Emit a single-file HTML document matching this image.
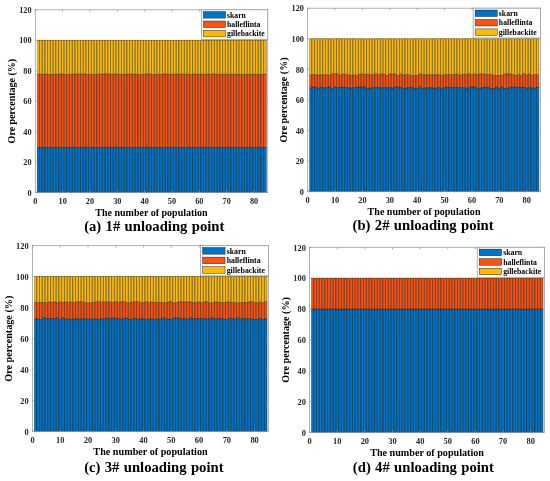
<!DOCTYPE html><html><head><meta charset="utf-8"><style>html,body{margin:0;padding:0;background:#fff;width:550px;height:481px;overflow:hidden}svg{display:block}.b{fill:rgb(2,116,200);stroke:rgb(0,50,78);stroke-width:0.62}.o{fill:rgb(245,85,20);stroke:rgb(105,40,15);stroke-width:0.62}.y{fill:rgb(248,186,14);stroke:rgb(110,85,15);stroke-width:0.62}</style></head><body>
<svg width="550" height="481" viewBox="0 0 550 481">
<rect width="550" height="481" fill="#fff"/>
<g><rect class="b" x="36.83" y="147.48" width="2.41" height="44.92"/><rect class="o" x="36.83" y="74.15" width="2.41" height="73.33"/><rect class="y" x="36.83" y="40.23" width="2.41" height="33.91"/><rect class="b" x="39.56" y="147.42" width="2.41" height="44.98"/><rect class="o" x="39.56" y="74.12" width="2.41" height="73.3"/><rect class="y" x="39.56" y="40.23" width="2.41" height="33.89"/><rect class="b" x="42.3" y="147.3" width="2.41" height="45.1"/><rect class="o" x="42.3" y="74.36" width="2.41" height="72.94"/><rect class="y" x="42.3" y="40.23" width="2.41" height="34.13"/><rect class="b" x="45.03" y="147.58" width="2.41" height="44.82"/><rect class="o" x="45.03" y="74.01" width="2.41" height="73.57"/><rect class="y" x="45.03" y="40.23" width="2.41" height="33.78"/><rect class="b" x="47.76" y="147.47" width="2.41" height="44.93"/><rect class="o" x="47.76" y="74.29" width="2.41" height="73.18"/><rect class="y" x="47.76" y="40.23" width="2.41" height="34.05"/><rect class="b" x="50.5" y="147.13" width="2.41" height="45.27"/><rect class="o" x="50.5" y="74.18" width="2.41" height="72.95"/><rect class="y" x="50.5" y="40.23" width="2.41" height="33.95"/><rect class="b" x="53.23" y="147.21" width="2.41" height="45.19"/><rect class="o" x="53.23" y="74.18" width="2.41" height="73.03"/><rect class="y" x="53.23" y="40.23" width="2.41" height="33.94"/><rect class="b" x="55.97" y="147.3" width="2.41" height="45.1"/><rect class="o" x="55.97" y="74.33" width="2.41" height="72.97"/><rect class="y" x="55.97" y="40.23" width="2.41" height="34.09"/><rect class="b" x="58.7" y="147.3" width="2.41" height="45.1"/><rect class="o" x="58.7" y="74" width="2.41" height="73.3"/><rect class="y" x="58.7" y="40.23" width="2.41" height="33.77"/><rect class="b" x="61.43" y="147.35" width="2.41" height="45.05"/><rect class="o" x="61.43" y="74.06" width="2.41" height="73.29"/><rect class="y" x="61.43" y="40.23" width="2.41" height="33.82"/><rect class="b" x="64.17" y="147.28" width="2.41" height="45.12"/><rect class="o" x="64.17" y="74.37" width="2.41" height="72.91"/><rect class="y" x="64.17" y="40.23" width="2.41" height="34.13"/><rect class="b" x="66.9" y="147.24" width="2.41" height="45.16"/><rect class="o" x="66.9" y="74.12" width="2.41" height="73.12"/><rect class="y" x="66.9" y="40.23" width="2.41" height="33.89"/><rect class="b" x="69.64" y="147.45" width="2.41" height="44.95"/><rect class="o" x="69.64" y="74.38" width="2.41" height="73.07"/><rect class="y" x="69.64" y="40.23" width="2.41" height="34.15"/><rect class="b" x="72.37" y="147.19" width="2.41" height="45.21"/><rect class="o" x="72.37" y="74.18" width="2.41" height="73.01"/><rect class="y" x="72.37" y="40.23" width="2.41" height="33.95"/><rect class="b" x="75.1" y="147.26" width="2.41" height="45.14"/><rect class="o" x="75.1" y="73.99" width="2.41" height="73.27"/><rect class="y" x="75.1" y="40.23" width="2.41" height="33.76"/><rect class="b" x="77.84" y="147.26" width="2.41" height="45.14"/><rect class="o" x="77.84" y="73.97" width="2.41" height="73.29"/><rect class="y" x="77.84" y="40.23" width="2.41" height="33.74"/><rect class="b" x="80.57" y="147.41" width="2.41" height="44.99"/><rect class="o" x="80.57" y="74.03" width="2.41" height="73.38"/><rect class="y" x="80.57" y="40.23" width="2.41" height="33.8"/><rect class="b" x="83.31" y="147.38" width="2.41" height="45.02"/><rect class="o" x="83.31" y="73.97" width="2.41" height="73.42"/><rect class="y" x="83.31" y="40.23" width="2.41" height="33.73"/><rect class="b" x="86.04" y="147.19" width="2.41" height="45.21"/><rect class="o" x="86.04" y="74.35" width="2.41" height="72.84"/><rect class="y" x="86.04" y="40.23" width="2.41" height="34.12"/><rect class="b" x="88.78" y="147.52" width="2.41" height="44.88"/><rect class="o" x="88.78" y="74.3" width="2.41" height="73.23"/><rect class="y" x="88.78" y="40.23" width="2.41" height="34.06"/><rect class="b" x="91.51" y="147.15" width="2.41" height="45.25"/><rect class="o" x="91.51" y="74.2" width="2.41" height="72.95"/><rect class="y" x="91.51" y="40.23" width="2.41" height="33.96"/><rect class="b" x="94.24" y="147.3" width="2.41" height="45.1"/><rect class="o" x="94.24" y="74.26" width="2.41" height="73.04"/><rect class="y" x="94.24" y="40.23" width="2.41" height="34.02"/><rect class="b" x="96.98" y="147.36" width="2.41" height="45.04"/><rect class="o" x="96.98" y="74.22" width="2.41" height="73.14"/><rect class="y" x="96.98" y="40.23" width="2.41" height="33.99"/><rect class="b" x="99.71" y="147.43" width="2.41" height="44.97"/><rect class="o" x="99.71" y="74.13" width="2.41" height="73.3"/><rect class="y" x="99.71" y="40.23" width="2.41" height="33.89"/><rect class="b" x="102.45" y="147.32" width="2.41" height="45.08"/><rect class="o" x="102.45" y="73.98" width="2.41" height="73.34"/><rect class="y" x="102.45" y="40.23" width="2.41" height="33.75"/><rect class="b" x="105.18" y="147.28" width="2.41" height="45.12"/><rect class="o" x="105.18" y="73.97" width="2.41" height="73.3"/><rect class="y" x="105.18" y="40.23" width="2.41" height="33.74"/><rect class="b" x="107.91" y="147.2" width="2.41" height="45.2"/><rect class="o" x="107.91" y="73.94" width="2.41" height="73.25"/><rect class="y" x="107.91" y="40.23" width="2.41" height="33.71"/><rect class="b" x="110.65" y="147.28" width="2.41" height="45.12"/><rect class="o" x="110.65" y="74.32" width="2.41" height="72.96"/><rect class="y" x="110.65" y="40.23" width="2.41" height="34.09"/><rect class="b" x="113.38" y="147.19" width="2.41" height="45.21"/><rect class="o" x="113.38" y="73.95" width="2.41" height="73.24"/><rect class="y" x="113.38" y="40.23" width="2.41" height="33.72"/><rect class="b" x="116.12" y="147.17" width="2.41" height="45.23"/><rect class="o" x="116.12" y="74.13" width="2.41" height="73.04"/><rect class="y" x="116.12" y="40.23" width="2.41" height="33.9"/><rect class="b" x="118.85" y="147.26" width="2.41" height="45.14"/><rect class="o" x="118.85" y="74.3" width="2.41" height="72.96"/><rect class="y" x="118.85" y="40.23" width="2.41" height="34.07"/><rect class="b" x="121.58" y="147.21" width="2.41" height="45.19"/><rect class="o" x="121.58" y="74.13" width="2.41" height="73.07"/><rect class="y" x="121.58" y="40.23" width="2.41" height="33.9"/><rect class="b" x="124.32" y="147.46" width="2.41" height="44.94"/><rect class="o" x="124.32" y="74.37" width="2.41" height="73.09"/><rect class="y" x="124.32" y="40.23" width="2.41" height="34.13"/><rect class="b" x="127.05" y="147.2" width="2.41" height="45.2"/><rect class="o" x="127.05" y="73.94" width="2.41" height="73.25"/><rect class="y" x="127.05" y="40.23" width="2.41" height="33.71"/><rect class="b" x="129.79" y="147.55" width="2.41" height="44.85"/><rect class="o" x="129.79" y="74.03" width="2.41" height="73.52"/><rect class="y" x="129.79" y="40.23" width="2.41" height="33.8"/><rect class="b" x="132.52" y="147.4" width="2.41" height="45"/><rect class="o" x="132.52" y="74.33" width="2.41" height="73.07"/><rect class="y" x="132.52" y="40.23" width="2.41" height="34.09"/><rect class="b" x="135.26" y="147.45" width="2.41" height="44.95"/><rect class="o" x="135.26" y="74.04" width="2.41" height="73.41"/><rect class="y" x="135.26" y="40.23" width="2.41" height="33.81"/><rect class="b" x="137.99" y="147.19" width="2.41" height="45.21"/><rect class="o" x="137.99" y="74.37" width="2.41" height="72.81"/><rect class="y" x="137.99" y="40.23" width="2.41" height="34.14"/><rect class="b" x="140.72" y="147.31" width="2.41" height="45.09"/><rect class="o" x="140.72" y="74.37" width="2.41" height="72.93"/><rect class="y" x="140.72" y="40.23" width="2.41" height="34.14"/><rect class="b" x="143.46" y="147.26" width="2.41" height="45.14"/><rect class="o" x="143.46" y="74.24" width="2.41" height="73.02"/><rect class="y" x="143.46" y="40.23" width="2.41" height="34.01"/><rect class="b" x="146.19" y="147.18" width="2.41" height="45.22"/><rect class="o" x="146.19" y="73.95" width="2.41" height="73.24"/><rect class="y" x="146.19" y="40.23" width="2.41" height="33.71"/><rect class="b" x="148.93" y="147.36" width="2.41" height="45.04"/><rect class="o" x="148.93" y="73.94" width="2.41" height="73.42"/><rect class="y" x="148.93" y="40.23" width="2.41" height="33.71"/><rect class="b" x="151.66" y="147.45" width="2.41" height="44.95"/><rect class="o" x="151.66" y="74.36" width="2.41" height="73.09"/><rect class="y" x="151.66" y="40.23" width="2.41" height="34.13"/><rect class="b" x="154.39" y="147.31" width="2.41" height="45.09"/><rect class="o" x="154.39" y="74.38" width="2.41" height="72.93"/><rect class="y" x="154.39" y="40.23" width="2.41" height="34.15"/><rect class="b" x="157.13" y="147.5" width="2.41" height="44.9"/><rect class="o" x="157.13" y="74.21" width="2.41" height="73.29"/><rect class="y" x="157.13" y="40.23" width="2.41" height="33.98"/><rect class="b" x="159.86" y="147.31" width="2.41" height="45.09"/><rect class="o" x="159.86" y="74.32" width="2.41" height="72.98"/><rect class="y" x="159.86" y="40.23" width="2.41" height="34.09"/><rect class="b" x="162.6" y="147.57" width="2.41" height="44.83"/><rect class="o" x="162.6" y="74" width="2.41" height="73.57"/><rect class="y" x="162.6" y="40.23" width="2.41" height="33.77"/><rect class="b" x="165.33" y="147.44" width="2.41" height="44.96"/><rect class="o" x="165.33" y="73.96" width="2.41" height="73.49"/><rect class="y" x="165.33" y="40.23" width="2.41" height="33.72"/><rect class="b" x="168.06" y="147.18" width="2.41" height="45.22"/><rect class="o" x="168.06" y="74.22" width="2.41" height="72.96"/><rect class="y" x="168.06" y="40.23" width="2.41" height="33.99"/><rect class="b" x="170.8" y="147.38" width="2.41" height="45.02"/><rect class="o" x="170.8" y="74.16" width="2.41" height="73.22"/><rect class="y" x="170.8" y="40.23" width="2.41" height="33.92"/><rect class="b" x="173.53" y="147.29" width="2.41" height="45.11"/><rect class="o" x="173.53" y="74.12" width="2.41" height="73.17"/><rect class="y" x="173.53" y="40.23" width="2.41" height="33.89"/><rect class="b" x="176.27" y="147.33" width="2.41" height="45.07"/><rect class="o" x="176.27" y="74.11" width="2.41" height="73.22"/><rect class="y" x="176.27" y="40.23" width="2.41" height="33.88"/><rect class="b" x="179" y="147.16" width="2.41" height="45.24"/><rect class="o" x="179" y="74.16" width="2.41" height="72.99"/><rect class="y" x="179" y="40.23" width="2.41" height="33.93"/><rect class="b" x="181.74" y="147.39" width="2.41" height="45.01"/><rect class="o" x="181.74" y="74.07" width="2.41" height="73.32"/><rect class="y" x="181.74" y="40.23" width="2.41" height="33.83"/><rect class="b" x="184.47" y="147.48" width="2.41" height="44.92"/><rect class="o" x="184.47" y="74.26" width="2.41" height="73.22"/><rect class="y" x="184.47" y="40.23" width="2.41" height="34.02"/><rect class="b" x="187.2" y="147.14" width="2.41" height="45.26"/><rect class="o" x="187.2" y="74.16" width="2.41" height="72.98"/><rect class="y" x="187.2" y="40.23" width="2.41" height="33.92"/><rect class="b" x="189.94" y="147.34" width="2.41" height="45.06"/><rect class="o" x="189.94" y="74.39" width="2.41" height="72.95"/><rect class="y" x="189.94" y="40.23" width="2.41" height="34.16"/><rect class="b" x="192.67" y="147.4" width="2.41" height="45"/><rect class="o" x="192.67" y="74.13" width="2.41" height="73.27"/><rect class="y" x="192.67" y="40.23" width="2.41" height="33.9"/><rect class="b" x="195.41" y="147.58" width="2.41" height="44.82"/><rect class="o" x="195.41" y="74.11" width="2.41" height="73.46"/><rect class="y" x="195.41" y="40.23" width="2.41" height="33.88"/><rect class="b" x="198.14" y="147.3" width="2.41" height="45.1"/><rect class="o" x="198.14" y="74.37" width="2.41" height="72.93"/><rect class="y" x="198.14" y="40.23" width="2.41" height="34.13"/><rect class="b" x="200.87" y="147.3" width="2.41" height="45.1"/><rect class="o" x="200.87" y="74.18" width="2.41" height="73.12"/><rect class="y" x="200.87" y="40.23" width="2.41" height="33.95"/><rect class="b" x="203.61" y="147.28" width="2.41" height="45.12"/><rect class="o" x="203.61" y="74.23" width="2.41" height="73.04"/><rect class="y" x="203.61" y="40.23" width="2.41" height="34"/><rect class="b" x="206.34" y="147.26" width="2.41" height="45.14"/><rect class="o" x="206.34" y="74.06" width="2.41" height="73.21"/><rect class="y" x="206.34" y="40.23" width="2.41" height="33.82"/><rect class="b" x="209.08" y="147.58" width="2.41" height="44.82"/><rect class="o" x="209.08" y="74.37" width="2.41" height="73.21"/><rect class="y" x="209.08" y="40.23" width="2.41" height="34.13"/><rect class="b" x="211.81" y="147.28" width="2.41" height="45.12"/><rect class="o" x="211.81" y="73.96" width="2.41" height="73.32"/><rect class="y" x="211.81" y="40.23" width="2.41" height="33.72"/><rect class="b" x="214.54" y="147.47" width="2.41" height="44.93"/><rect class="o" x="214.54" y="74.19" width="2.41" height="73.29"/><rect class="y" x="214.54" y="40.23" width="2.41" height="33.95"/><rect class="b" x="217.28" y="147.32" width="2.41" height="45.08"/><rect class="o" x="217.28" y="74.25" width="2.41" height="73.07"/><rect class="y" x="217.28" y="40.23" width="2.41" height="34.02"/><rect class="b" x="220.01" y="147.42" width="2.41" height="44.98"/><rect class="o" x="220.01" y="74.25" width="2.41" height="73.17"/><rect class="y" x="220.01" y="40.23" width="2.41" height="34.02"/><rect class="b" x="222.75" y="147.42" width="2.41" height="44.98"/><rect class="o" x="222.75" y="74.12" width="2.41" height="73.3"/><rect class="y" x="222.75" y="40.23" width="2.41" height="33.89"/><rect class="b" x="225.48" y="147.45" width="2.41" height="44.95"/><rect class="o" x="225.48" y="74.22" width="2.41" height="73.23"/><rect class="y" x="225.48" y="40.23" width="2.41" height="33.99"/><rect class="b" x="228.22" y="147.23" width="2.41" height="45.17"/><rect class="o" x="228.22" y="74.38" width="2.41" height="72.85"/><rect class="y" x="228.22" y="40.23" width="2.41" height="34.15"/><rect class="b" x="230.95" y="147.33" width="2.41" height="45.07"/><rect class="o" x="230.95" y="74.06" width="2.41" height="73.27"/><rect class="y" x="230.95" y="40.23" width="2.41" height="33.83"/><rect class="b" x="233.68" y="147.45" width="2.41" height="44.95"/><rect class="o" x="233.68" y="74.29" width="2.41" height="73.15"/><rect class="y" x="233.68" y="40.23" width="2.41" height="34.06"/><rect class="b" x="236.42" y="147.22" width="2.41" height="45.18"/><rect class="o" x="236.42" y="74.29" width="2.41" height="72.93"/><rect class="y" x="236.42" y="40.23" width="2.41" height="34.05"/><rect class="b" x="239.15" y="147.5" width="2.41" height="44.9"/><rect class="o" x="239.15" y="74.2" width="2.41" height="73.31"/><rect class="y" x="239.15" y="40.23" width="2.41" height="33.96"/><rect class="b" x="241.89" y="147.27" width="2.41" height="45.13"/><rect class="o" x="241.89" y="74.35" width="2.41" height="72.92"/><rect class="y" x="241.89" y="40.23" width="2.41" height="34.11"/><rect class="b" x="244.62" y="147.44" width="2.41" height="44.96"/><rect class="o" x="244.62" y="74.24" width="2.41" height="73.2"/><rect class="y" x="244.62" y="40.23" width="2.41" height="34.01"/><rect class="b" x="247.35" y="147.21" width="2.41" height="45.19"/><rect class="o" x="247.35" y="74.19" width="2.41" height="73.01"/><rect class="y" x="247.35" y="40.23" width="2.41" height="33.96"/><rect class="b" x="250.09" y="147.2" width="2.41" height="45.2"/><rect class="o" x="250.09" y="74.32" width="2.41" height="72.88"/><rect class="y" x="250.09" y="40.23" width="2.41" height="34.08"/><rect class="b" x="252.82" y="147.43" width="2.41" height="44.97"/><rect class="o" x="252.82" y="74.1" width="2.41" height="73.34"/><rect class="y" x="252.82" y="40.23" width="2.41" height="33.86"/><rect class="b" x="255.56" y="147.18" width="2.41" height="45.22"/><rect class="o" x="255.56" y="74.19" width="2.41" height="72.99"/><rect class="y" x="255.56" y="40.23" width="2.41" height="33.96"/><rect class="b" x="258.29" y="147.48" width="2.41" height="44.92"/><rect class="o" x="258.29" y="74.34" width="2.41" height="73.14"/><rect class="y" x="258.29" y="40.23" width="2.41" height="34.11"/><rect class="b" x="261.02" y="147.35" width="2.41" height="45.05"/><rect class="o" x="261.02" y="74.31" width="2.41" height="73.04"/><rect class="y" x="261.02" y="40.23" width="2.41" height="34.07"/><rect class="b" x="263.76" y="147.22" width="2.41" height="45.18"/><rect class="o" x="263.76" y="74.01" width="2.41" height="73.21"/><rect class="y" x="263.76" y="40.23" width="2.41" height="33.78"/></g>
<rect x="35.6" y="39.23" width="1.28" height="153.17" fill="#fff"/>
<rect x="35.3" y="9.8" width="232.4" height="182.6" fill="none" stroke="#999" stroke-width="0.75"/>
<path d="M35.3 192.4h2M267.7 192.4h-2M35.3 161.97h2M267.7 161.97h-2M35.3 131.53h2M267.7 131.53h-2M35.3 101.1h2M267.7 101.1h-2M35.3 70.67h2M267.7 70.67h-2M35.3 40.23h2M267.7 40.23h-2M35.3 9.8h2M267.7 9.8h-2M35.3 192.4v-2M35.3 9.8v2M62.64 192.4v-2M62.64 9.8v2M89.98 192.4v-2M89.98 9.8v2M117.32 192.4v-2M117.32 9.8v2M144.66 192.4v-2M144.66 9.8v2M172.01 192.4v-2M172.01 9.8v2M199.35 192.4v-2M199.35 9.8v2M226.69 192.4v-2M226.69 9.8v2M254.03 192.4v-2M254.03 9.8v2" stroke="#999" stroke-width="0.75" fill="none"/>
<g font-family="Liberation Serif, Times New Roman, serif" font-weight="bold" font-size="8.3" fill="#262626"><text x="31.6" y="195.6" text-anchor="end">0</text><text x="31.6" y="165.17" text-anchor="end">20</text><text x="31.6" y="134.73" text-anchor="end">40</text><text x="31.6" y="104.3" text-anchor="end">60</text><text x="31.6" y="73.87" text-anchor="end">80</text><text x="31.6" y="43.43" text-anchor="end">100</text><text x="31.6" y="13" text-anchor="end">120</text><text x="35.3" y="203.7" text-anchor="middle">0</text><text x="62.64" y="203.7" text-anchor="middle">10</text><text x="89.98" y="203.7" text-anchor="middle">20</text><text x="117.32" y="203.7" text-anchor="middle">30</text><text x="144.66" y="203.7" text-anchor="middle">40</text><text x="172.01" y="203.7" text-anchor="middle">50</text><text x="199.35" y="203.7" text-anchor="middle">60</text><text x="226.69" y="203.7" text-anchor="middle">70</text><text x="254.03" y="203.7" text-anchor="middle">80</text></g>
<text font-family="Liberation Serif, Times New Roman, serif" font-weight="bold" font-size="10" fill="#000" x="151.5" y="215.7" text-anchor="middle">The number of population</text>
<text font-family="Liberation Serif, Times New Roman, serif" font-weight="bold" font-size="10" fill="#000" text-anchor="middle" transform="translate(14.8 101.1) rotate(-90)">Ore percentage (%)</text>
<text font-family="Liberation Serif, Times New Roman, serif" font-weight="bold" font-size="14.7" word-spacing="0.64" fill="#000" x="84.14" y="230.6">(a) 1# unloading point</text>
<rect x="201.5" y="9.8" width="66.2" height="29.6" fill="#fff" stroke="#999" stroke-width="0.75"/><rect x="203.5" y="11.6" width="22" height="6.5" fill="rgb(2,116,200)" stroke="#000" stroke-width="0.4"/><text x="227.1" y="17.5" font-family="Liberation Serif, Times New Roman, serif" font-weight="bold" font-size="7.7" fill="#000">skarn</text><rect x="203.5" y="21" width="22" height="6.5" fill="rgb(245,85,20)" stroke="#000" stroke-width="0.4"/><text x="227.1" y="26.9" font-family="Liberation Serif, Times New Roman, serif" font-weight="bold" font-size="7.7" fill="#000">halleflinta</text><rect x="203.5" y="30.4" width="22" height="6.5" fill="rgb(248,186,14)" stroke="#000" stroke-width="0.4"/><text x="227.1" y="36.3" font-family="Liberation Serif, Times New Roman, serif" font-weight="bold" font-size="7.7" fill="#000">gillebackite</text>
<g><rect class="b" x="309.23" y="88.05" width="2.42" height="103.65"/><rect class="o" x="309.23" y="74.97" width="2.42" height="13.08"/><rect class="y" x="309.23" y="38.78" width="2.42" height="36.19"/><rect class="b" x="311.97" y="87.09" width="2.42" height="104.61"/><rect class="o" x="311.97" y="74.31" width="2.42" height="12.79"/><rect class="y" x="311.97" y="38.78" width="2.42" height="35.52"/><rect class="b" x="314.7" y="87.1" width="2.42" height="104.6"/><rect class="o" x="314.7" y="74.85" width="2.42" height="12.25"/><rect class="y" x="314.7" y="38.78" width="2.42" height="36.07"/><rect class="b" x="317.44" y="88.13" width="2.42" height="103.57"/><rect class="o" x="317.44" y="74.95" width="2.42" height="13.18"/><rect class="y" x="317.44" y="38.78" width="2.42" height="36.16"/><rect class="b" x="320.18" y="87.11" width="2.42" height="104.59"/><rect class="o" x="320.18" y="74.99" width="2.42" height="12.13"/><rect class="y" x="320.18" y="38.78" width="2.42" height="36.2"/><rect class="b" x="322.92" y="87.8" width="2.42" height="103.9"/><rect class="o" x="322.92" y="74.72" width="2.42" height="13.08"/><rect class="y" x="322.92" y="38.78" width="2.42" height="35.93"/><rect class="b" x="325.65" y="87.69" width="2.42" height="104.01"/><rect class="o" x="325.65" y="74.73" width="2.42" height="12.95"/><rect class="y" x="325.65" y="38.78" width="2.42" height="35.95"/><rect class="b" x="328.39" y="86.92" width="2.42" height="104.78"/><rect class="o" x="328.39" y="75.2" width="2.42" height="11.72"/><rect class="y" x="328.39" y="38.78" width="2.42" height="36.41"/><rect class="b" x="331.13" y="88.32" width="2.42" height="103.38"/><rect class="o" x="331.13" y="73.75" width="2.42" height="14.57"/><rect class="y" x="331.13" y="38.78" width="2.42" height="34.97"/><rect class="b" x="333.87" y="86.98" width="2.42" height="104.72"/><rect class="o" x="333.87" y="73.67" width="2.42" height="13.31"/><rect class="y" x="333.87" y="38.78" width="2.42" height="34.89"/><rect class="b" x="336.61" y="87.66" width="2.42" height="104.04"/><rect class="o" x="336.61" y="73.74" width="2.42" height="13.92"/><rect class="y" x="336.61" y="38.78" width="2.42" height="34.96"/><rect class="b" x="339.34" y="86.91" width="2.42" height="104.79"/><rect class="o" x="339.34" y="75.08" width="2.42" height="11.83"/><rect class="y" x="339.34" y="38.78" width="2.42" height="36.29"/><rect class="b" x="342.08" y="87.19" width="2.42" height="104.51"/><rect class="o" x="342.08" y="73.95" width="2.42" height="13.24"/><rect class="y" x="342.08" y="38.78" width="2.42" height="35.16"/><rect class="b" x="344.82" y="87.31" width="2.42" height="104.39"/><rect class="o" x="344.82" y="74.53" width="2.42" height="12.78"/><rect class="y" x="344.82" y="38.78" width="2.42" height="35.75"/><rect class="b" x="347.56" y="87.89" width="2.42" height="103.81"/><rect class="o" x="347.56" y="74.86" width="2.42" height="13.03"/><rect class="y" x="347.56" y="38.78" width="2.42" height="36.07"/><rect class="b" x="350.29" y="87.98" width="2.42" height="103.72"/><rect class="o" x="350.29" y="75.36" width="2.42" height="12.62"/><rect class="y" x="350.29" y="38.78" width="2.42" height="36.58"/><rect class="b" x="353.03" y="87.43" width="2.42" height="104.27"/><rect class="o" x="353.03" y="74.96" width="2.42" height="12.47"/><rect class="y" x="353.03" y="38.78" width="2.42" height="36.17"/><rect class="b" x="355.77" y="87.09" width="2.42" height="104.61"/><rect class="o" x="355.77" y="75.4" width="2.42" height="11.69"/><rect class="y" x="355.77" y="38.78" width="2.42" height="36.62"/><rect class="b" x="358.51" y="86.95" width="2.42" height="104.75"/><rect class="o" x="358.51" y="74.21" width="2.42" height="12.74"/><rect class="y" x="358.51" y="38.78" width="2.42" height="35.43"/><rect class="b" x="361.24" y="86.92" width="2.42" height="104.78"/><rect class="o" x="361.24" y="73.84" width="2.42" height="13.08"/><rect class="y" x="361.24" y="38.78" width="2.42" height="35.05"/><rect class="b" x="363.98" y="86.95" width="2.42" height="104.75"/><rect class="o" x="363.98" y="74.42" width="2.42" height="12.53"/><rect class="y" x="363.98" y="38.78" width="2.42" height="35.64"/><rect class="b" x="366.72" y="88.31" width="2.42" height="103.39"/><rect class="o" x="366.72" y="74.12" width="2.42" height="14.19"/><rect class="y" x="366.72" y="38.78" width="2.42" height="35.33"/><rect class="b" x="369.46" y="88.07" width="2.42" height="103.63"/><rect class="o" x="369.46" y="74.93" width="2.42" height="13.13"/><rect class="y" x="369.46" y="38.78" width="2.42" height="36.15"/><rect class="b" x="372.19" y="87.31" width="2.42" height="104.39"/><rect class="o" x="372.19" y="74.52" width="2.42" height="12.79"/><rect class="y" x="372.19" y="38.78" width="2.42" height="35.74"/><rect class="b" x="374.93" y="87.7" width="2.42" height="104"/><rect class="o" x="374.93" y="73.76" width="2.42" height="13.94"/><rect class="y" x="374.93" y="38.78" width="2.42" height="34.98"/><rect class="b" x="377.67" y="87.39" width="2.42" height="104.31"/><rect class="o" x="377.67" y="74.86" width="2.42" height="12.54"/><rect class="y" x="377.67" y="38.78" width="2.42" height="36.07"/><rect class="b" x="380.41" y="87.94" width="2.42" height="103.76"/><rect class="o" x="380.41" y="73.9" width="2.42" height="14.04"/><rect class="y" x="380.41" y="38.78" width="2.42" height="35.12"/><rect class="b" x="383.15" y="87.6" width="2.42" height="104.1"/><rect class="o" x="383.15" y="74.05" width="2.42" height="13.55"/><rect class="y" x="383.15" y="38.78" width="2.42" height="35.26"/><rect class="b" x="385.88" y="87.79" width="2.42" height="103.91"/><rect class="o" x="385.88" y="75.12" width="2.42" height="12.67"/><rect class="y" x="385.88" y="38.78" width="2.42" height="36.34"/><rect class="b" x="388.62" y="87.51" width="2.42" height="104.19"/><rect class="o" x="388.62" y="73.98" width="2.42" height="13.53"/><rect class="y" x="388.62" y="38.78" width="2.42" height="35.2"/><rect class="b" x="391.36" y="88.07" width="2.42" height="103.63"/><rect class="o" x="391.36" y="74.03" width="2.42" height="14.04"/><rect class="y" x="391.36" y="38.78" width="2.42" height="35.25"/><rect class="b" x="394.1" y="86.92" width="2.42" height="104.78"/><rect class="o" x="394.1" y="74" width="2.42" height="12.91"/><rect class="y" x="394.1" y="38.78" width="2.42" height="35.22"/><rect class="b" x="396.83" y="87.07" width="2.42" height="104.63"/><rect class="o" x="396.83" y="75.47" width="2.42" height="11.6"/><rect class="y" x="396.83" y="38.78" width="2.42" height="36.69"/><rect class="b" x="399.57" y="87.37" width="2.42" height="104.33"/><rect class="o" x="399.57" y="73.9" width="2.42" height="13.47"/><rect class="y" x="399.57" y="38.78" width="2.42" height="35.12"/><rect class="b" x="402.31" y="88.25" width="2.42" height="103.45"/><rect class="o" x="402.31" y="74.99" width="2.42" height="13.27"/><rect class="y" x="402.31" y="38.78" width="2.42" height="36.2"/><rect class="b" x="405.05" y="87.92" width="2.42" height="103.78"/><rect class="o" x="405.05" y="74.52" width="2.42" height="13.4"/><rect class="y" x="405.05" y="38.78" width="2.42" height="35.73"/><rect class="b" x="407.78" y="87.68" width="2.42" height="104.02"/><rect class="o" x="407.78" y="74.62" width="2.42" height="13.07"/><rect class="y" x="407.78" y="38.78" width="2.42" height="35.83"/><rect class="b" x="410.52" y="87.14" width="2.42" height="104.56"/><rect class="o" x="410.52" y="75.48" width="2.42" height="11.66"/><rect class="y" x="410.52" y="38.78" width="2.42" height="36.7"/><rect class="b" x="413.26" y="88.24" width="2.42" height="103.46"/><rect class="o" x="413.26" y="75.25" width="2.42" height="12.99"/><rect class="y" x="413.26" y="38.78" width="2.42" height="36.47"/><rect class="b" x="416" y="88.14" width="2.42" height="103.56"/><rect class="o" x="416" y="75.36" width="2.42" height="12.78"/><rect class="y" x="416" y="38.78" width="2.42" height="36.57"/><rect class="b" x="418.73" y="86.84" width="2.42" height="104.86"/><rect class="o" x="418.73" y="73.92" width="2.42" height="12.92"/><rect class="y" x="418.73" y="38.78" width="2.42" height="35.13"/><rect class="b" x="421.47" y="88.2" width="2.42" height="103.5"/><rect class="o" x="421.47" y="74.56" width="2.42" height="13.63"/><rect class="y" x="421.47" y="38.78" width="2.42" height="35.78"/><rect class="b" x="424.21" y="87.85" width="2.42" height="103.85"/><rect class="o" x="424.21" y="74.91" width="2.42" height="12.94"/><rect class="y" x="424.21" y="38.78" width="2.42" height="36.12"/><rect class="b" x="426.95" y="87.79" width="2.42" height="103.91"/><rect class="o" x="426.95" y="74.3" width="2.42" height="13.49"/><rect class="y" x="426.95" y="38.78" width="2.42" height="35.51"/><rect class="b" x="429.69" y="87.43" width="2.42" height="104.27"/><rect class="o" x="429.69" y="74.82" width="2.42" height="12.61"/><rect class="y" x="429.69" y="38.78" width="2.42" height="36.04"/><rect class="b" x="432.42" y="88.04" width="2.42" height="103.66"/><rect class="o" x="432.42" y="74.88" width="2.42" height="13.16"/><rect class="y" x="432.42" y="38.78" width="2.42" height="36.1"/><rect class="b" x="435.16" y="88.14" width="2.42" height="103.56"/><rect class="o" x="435.16" y="74.46" width="2.42" height="13.68"/><rect class="y" x="435.16" y="38.78" width="2.42" height="35.68"/><rect class="b" x="437.9" y="87.23" width="2.42" height="104.47"/><rect class="o" x="437.9" y="74.79" width="2.42" height="12.45"/><rect class="y" x="437.9" y="38.78" width="2.42" height="36"/><rect class="b" x="440.64" y="88.21" width="2.42" height="103.49"/><rect class="o" x="440.64" y="75.16" width="2.42" height="13.05"/><rect class="y" x="440.64" y="38.78" width="2.42" height="36.37"/><rect class="b" x="443.37" y="87.76" width="2.42" height="103.94"/><rect class="o" x="443.37" y="74.37" width="2.42" height="13.38"/><rect class="y" x="443.37" y="38.78" width="2.42" height="35.59"/><rect class="b" x="446.11" y="87.13" width="2.42" height="104.57"/><rect class="o" x="446.11" y="74.79" width="2.42" height="12.35"/><rect class="y" x="446.11" y="38.78" width="2.42" height="36"/><rect class="b" x="448.85" y="87.1" width="2.42" height="104.6"/><rect class="o" x="448.85" y="74.34" width="2.42" height="12.76"/><rect class="y" x="448.85" y="38.78" width="2.42" height="35.56"/><rect class="b" x="451.59" y="87.67" width="2.42" height="104.03"/><rect class="o" x="451.59" y="74.8" width="2.42" height="12.87"/><rect class="y" x="451.59" y="38.78" width="2.42" height="36.02"/><rect class="b" x="454.32" y="87.57" width="2.42" height="104.13"/><rect class="o" x="454.32" y="74.19" width="2.42" height="13.38"/><rect class="y" x="454.32" y="38.78" width="2.42" height="35.41"/><rect class="b" x="457.06" y="87.69" width="2.42" height="104.01"/><rect class="o" x="457.06" y="74.21" width="2.42" height="13.48"/><rect class="y" x="457.06" y="38.78" width="2.42" height="35.43"/><rect class="b" x="459.8" y="87.62" width="2.42" height="104.08"/><rect class="o" x="459.8" y="75.03" width="2.42" height="12.59"/><rect class="y" x="459.8" y="38.78" width="2.42" height="36.25"/><rect class="b" x="462.54" y="87.51" width="2.42" height="104.19"/><rect class="o" x="462.54" y="74.21" width="2.42" height="13.3"/><rect class="y" x="462.54" y="38.78" width="2.42" height="35.42"/><rect class="b" x="465.27" y="88.22" width="2.42" height="103.48"/><rect class="o" x="465.27" y="74.7" width="2.42" height="13.52"/><rect class="y" x="465.27" y="38.78" width="2.42" height="35.92"/><rect class="b" x="468.01" y="87.68" width="2.42" height="104.02"/><rect class="o" x="468.01" y="73.87" width="2.42" height="13.81"/><rect class="y" x="468.01" y="38.78" width="2.42" height="35.09"/><rect class="b" x="470.75" y="86.9" width="2.42" height="104.8"/><rect class="o" x="470.75" y="74.8" width="2.42" height="12.1"/><rect class="y" x="470.75" y="38.78" width="2.42" height="36.01"/><rect class="b" x="473.49" y="86.96" width="2.42" height="104.74"/><rect class="o" x="473.49" y="74.03" width="2.42" height="12.92"/><rect class="y" x="473.49" y="38.78" width="2.42" height="35.25"/><rect class="b" x="476.23" y="87.93" width="2.42" height="103.77"/><rect class="o" x="476.23" y="74.63" width="2.42" height="13.3"/><rect class="y" x="476.23" y="38.78" width="2.42" height="35.85"/><rect class="b" x="478.96" y="88.14" width="2.42" height="103.56"/><rect class="o" x="478.96" y="73.99" width="2.42" height="14.15"/><rect class="y" x="478.96" y="38.78" width="2.42" height="35.21"/><rect class="b" x="481.7" y="87.32" width="2.42" height="104.38"/><rect class="o" x="481.7" y="73.86" width="2.42" height="13.46"/><rect class="y" x="481.7" y="38.78" width="2.42" height="35.07"/><rect class="b" x="484.44" y="87.12" width="2.42" height="104.58"/><rect class="o" x="484.44" y="74.26" width="2.42" height="12.86"/><rect class="y" x="484.44" y="38.78" width="2.42" height="35.48"/><rect class="b" x="487.18" y="87.21" width="2.42" height="104.49"/><rect class="o" x="487.18" y="74.45" width="2.42" height="12.76"/><rect class="y" x="487.18" y="38.78" width="2.42" height="35.67"/><rect class="b" x="489.91" y="88.17" width="2.42" height="103.53"/><rect class="o" x="489.91" y="74.4" width="2.42" height="13.77"/><rect class="y" x="489.91" y="38.78" width="2.42" height="35.62"/><rect class="b" x="492.65" y="88.32" width="2.42" height="103.38"/><rect class="o" x="492.65" y="75.22" width="2.42" height="13.1"/><rect class="y" x="492.65" y="38.78" width="2.42" height="36.44"/><rect class="b" x="495.39" y="87.14" width="2.42" height="104.56"/><rect class="o" x="495.39" y="75.4" width="2.42" height="11.74"/><rect class="y" x="495.39" y="38.78" width="2.42" height="36.62"/><rect class="b" x="498.13" y="88.19" width="2.42" height="103.51"/><rect class="o" x="498.13" y="75.3" width="2.42" height="12.89"/><rect class="y" x="498.13" y="38.78" width="2.42" height="36.52"/><rect class="b" x="500.86" y="86.98" width="2.42" height="104.72"/><rect class="o" x="500.86" y="75.15" width="2.42" height="11.83"/><rect class="y" x="500.86" y="38.78" width="2.42" height="36.37"/><rect class="b" x="503.6" y="88.29" width="2.42" height="103.41"/><rect class="o" x="503.6" y="73.94" width="2.42" height="14.35"/><rect class="y" x="503.6" y="38.78" width="2.42" height="35.16"/><rect class="b" x="506.34" y="88.14" width="2.42" height="103.56"/><rect class="o" x="506.34" y="73.93" width="2.42" height="14.21"/><rect class="y" x="506.34" y="38.78" width="2.42" height="35.15"/><rect class="b" x="509.08" y="87.3" width="2.42" height="104.4"/><rect class="o" x="509.08" y="73.95" width="2.42" height="13.35"/><rect class="y" x="509.08" y="38.78" width="2.42" height="35.17"/><rect class="b" x="511.81" y="86.87" width="2.42" height="104.83"/><rect class="o" x="511.81" y="74.42" width="2.42" height="12.45"/><rect class="y" x="511.81" y="38.78" width="2.42" height="35.64"/><rect class="b" x="514.55" y="87.11" width="2.42" height="104.59"/><rect class="o" x="514.55" y="75.42" width="2.42" height="11.69"/><rect class="y" x="514.55" y="38.78" width="2.42" height="36.63"/><rect class="b" x="517.29" y="87.15" width="2.42" height="104.55"/><rect class="o" x="517.29" y="74.55" width="2.42" height="12.61"/><rect class="y" x="517.29" y="38.78" width="2.42" height="35.76"/><rect class="b" x="520.03" y="87.23" width="2.42" height="104.47"/><rect class="o" x="520.03" y="75.29" width="2.42" height="11.95"/><rect class="y" x="520.03" y="38.78" width="2.42" height="36.5"/><rect class="b" x="522.77" y="87.18" width="2.42" height="104.52"/><rect class="o" x="522.77" y="73.77" width="2.42" height="13.41"/><rect class="y" x="522.77" y="38.78" width="2.42" height="34.99"/><rect class="b" x="525.5" y="88.23" width="2.42" height="103.47"/><rect class="o" x="525.5" y="74.89" width="2.42" height="13.35"/><rect class="y" x="525.5" y="38.78" width="2.42" height="36.11"/><rect class="b" x="528.24" y="87.47" width="2.42" height="104.23"/><rect class="o" x="528.24" y="73.96" width="2.42" height="13.5"/><rect class="y" x="528.24" y="38.78" width="2.42" height="35.18"/><rect class="b" x="530.98" y="87.96" width="2.42" height="103.74"/><rect class="o" x="530.98" y="75.15" width="2.42" height="12.8"/><rect class="y" x="530.98" y="38.78" width="2.42" height="36.37"/><rect class="b" x="533.72" y="87.95" width="2.42" height="103.75"/><rect class="o" x="533.72" y="74.35" width="2.42" height="13.59"/><rect class="y" x="533.72" y="38.78" width="2.42" height="35.57"/><rect class="b" x="536.45" y="87.18" width="2.42" height="104.52"/><rect class="o" x="536.45" y="74.76" width="2.42" height="12.42"/><rect class="y" x="536.45" y="38.78" width="2.42" height="35.98"/></g>
<rect x="308" y="37.78" width="1.29" height="153.92" fill="#fff"/>
<rect x="307.7" y="8.2" width="232.7" height="183.5" fill="none" stroke="#999" stroke-width="0.75"/>
<path d="M307.7 191.7h2M540.4 191.7h-2M307.7 161.12h2M540.4 161.12h-2M307.7 130.53h2M540.4 130.53h-2M307.7 99.95h2M540.4 99.95h-2M307.7 69.37h2M540.4 69.37h-2M307.7 38.78h2M540.4 38.78h-2M307.7 8.2h2M540.4 8.2h-2M307.7 191.7v-2M307.7 8.2v2M335.08 191.7v-2M335.08 8.2v2M362.45 191.7v-2M362.45 8.2v2M389.83 191.7v-2M389.83 8.2v2M417.21 191.7v-2M417.21 8.2v2M444.58 191.7v-2M444.58 8.2v2M471.96 191.7v-2M471.96 8.2v2M499.34 191.7v-2M499.34 8.2v2M526.71 191.7v-2M526.71 8.2v2" stroke="#999" stroke-width="0.75" fill="none"/>
<g font-family="Liberation Serif, Times New Roman, serif" font-weight="bold" font-size="8.34" fill="#262626"><text x="303.98" y="194.92" text-anchor="end">0</text><text x="303.98" y="164.33" text-anchor="end">20</text><text x="303.98" y="133.75" text-anchor="end">40</text><text x="303.98" y="103.17" text-anchor="end">60</text><text x="303.98" y="72.58" text-anchor="end">80</text><text x="303.98" y="42" text-anchor="end">100</text><text x="303.98" y="11.42" text-anchor="end">120</text><text x="307.7" y="203.06" text-anchor="middle">0</text><text x="335.08" y="203.06" text-anchor="middle">10</text><text x="362.45" y="203.06" text-anchor="middle">20</text><text x="389.83" y="203.06" text-anchor="middle">30</text><text x="417.21" y="203.06" text-anchor="middle">40</text><text x="444.58" y="203.06" text-anchor="middle">50</text><text x="471.96" y="203.06" text-anchor="middle">60</text><text x="499.34" y="203.06" text-anchor="middle">70</text><text x="526.71" y="203.06" text-anchor="middle">80</text></g>
<text font-family="Liberation Serif, Times New Roman, serif" font-weight="bold" font-size="10.05" fill="#000" x="424.05" y="215.11" text-anchor="middle">The number of population</text>
<text font-family="Liberation Serif, Times New Roman, serif" font-weight="bold" font-size="10.05" fill="#000" text-anchor="middle" transform="translate(287.1 99.95) rotate(-90)">Ore percentage (%)</text>
<text font-family="Liberation Serif, Times New Roman, serif" font-weight="bold" font-size="14.7" word-spacing="0.64" fill="#000" x="352.54" y="230.2">(b) 2# unloading point</text>
<rect x="473.1" y="8.2" width="67.3" height="29.75" fill="#fff" stroke="#999" stroke-width="0.75"/><rect x="475.11" y="10.01" width="22.11" height="6.53" fill="rgb(2,116,200)" stroke="#000" stroke-width="0.4"/><text x="498.83" y="15.94" font-family="Liberation Serif, Times New Roman, serif" font-weight="bold" font-size="7.74" fill="#000">skarn</text><rect x="475.11" y="19.46" width="22.11" height="6.53" fill="rgb(245,85,20)" stroke="#000" stroke-width="0.4"/><text x="498.83" y="25.38" font-family="Liberation Serif, Times New Roman, serif" font-weight="bold" font-size="7.74" fill="#000">halleflinta</text><rect x="475.11" y="28.9" width="22.11" height="6.53" fill="rgb(248,186,14)" stroke="#000" stroke-width="0.4"/><text x="498.83" y="34.83" font-family="Liberation Serif, Times New Roman, serif" font-weight="bold" font-size="7.74" fill="#000">gillebackite</text>
<g><rect class="b" x="34.05" y="318.91" width="2.46" height="112.69"/><rect class="o" x="34.05" y="302.4" width="2.46" height="16.51"/><rect class="y" x="34.05" y="276.68" width="2.46" height="25.72"/><rect class="b" x="36.82" y="318.94" width="2.46" height="112.66"/><rect class="o" x="36.82" y="302.37" width="2.46" height="16.57"/><rect class="y" x="36.82" y="276.68" width="2.46" height="25.69"/><rect class="b" x="39.6" y="319.44" width="2.46" height="112.16"/><rect class="o" x="39.6" y="302.24" width="2.46" height="17.2"/><rect class="y" x="39.6" y="276.68" width="2.46" height="25.56"/><rect class="b" x="42.38" y="317.79" width="2.46" height="113.81"/><rect class="o" x="42.38" y="302.38" width="2.46" height="15.41"/><rect class="y" x="42.38" y="276.68" width="2.46" height="25.7"/><rect class="b" x="45.15" y="318.21" width="2.46" height="113.39"/><rect class="o" x="45.15" y="302.77" width="2.46" height="15.44"/><rect class="y" x="45.15" y="276.68" width="2.46" height="26.09"/><rect class="b" x="47.93" y="318.31" width="2.46" height="113.29"/><rect class="o" x="47.93" y="301.85" width="2.46" height="16.46"/><rect class="y" x="47.93" y="276.68" width="2.46" height="25.16"/><rect class="b" x="50.71" y="318.34" width="2.46" height="113.26"/><rect class="o" x="50.71" y="302.22" width="2.46" height="16.12"/><rect class="y" x="50.71" y="276.68" width="2.46" height="25.53"/><rect class="b" x="53.48" y="318.7" width="2.46" height="112.9"/><rect class="o" x="53.48" y="302.02" width="2.46" height="16.67"/><rect class="y" x="53.48" y="276.68" width="2.46" height="25.34"/><rect class="b" x="56.26" y="317.93" width="2.46" height="113.67"/><rect class="o" x="56.26" y="302.79" width="2.46" height="15.14"/><rect class="y" x="56.26" y="276.68" width="2.46" height="26.1"/><rect class="b" x="59.04" y="319.42" width="2.46" height="112.18"/><rect class="o" x="59.04" y="301.86" width="2.46" height="17.56"/><rect class="y" x="59.04" y="276.68" width="2.46" height="25.18"/><rect class="b" x="61.81" y="317.89" width="2.46" height="113.71"/><rect class="o" x="61.81" y="302.22" width="2.46" height="15.67"/><rect class="y" x="61.81" y="276.68" width="2.46" height="25.53"/><rect class="b" x="64.59" y="318.77" width="2.46" height="112.83"/><rect class="o" x="64.59" y="301.91" width="2.46" height="16.87"/><rect class="y" x="64.59" y="276.68" width="2.46" height="25.22"/><rect class="b" x="67.37" y="319.25" width="2.46" height="112.35"/><rect class="o" x="67.37" y="302.6" width="2.46" height="16.64"/><rect class="y" x="67.37" y="276.68" width="2.46" height="25.92"/><rect class="b" x="70.14" y="319.22" width="2.46" height="112.38"/><rect class="o" x="70.14" y="302.11" width="2.46" height="17.11"/><rect class="y" x="70.14" y="276.68" width="2.46" height="25.43"/><rect class="b" x="72.92" y="319.01" width="2.46" height="112.59"/><rect class="o" x="72.92" y="302.66" width="2.46" height="16.35"/><rect class="y" x="72.92" y="276.68" width="2.46" height="25.98"/><rect class="b" x="75.7" y="318.31" width="2.46" height="113.29"/><rect class="o" x="75.7" y="301.54" width="2.46" height="16.77"/><rect class="y" x="75.7" y="276.68" width="2.46" height="24.86"/><rect class="b" x="78.47" y="319.05" width="2.46" height="112.55"/><rect class="o" x="78.47" y="301.93" width="2.46" height="17.12"/><rect class="y" x="78.47" y="276.68" width="2.46" height="25.24"/><rect class="b" x="81.25" y="318.83" width="2.46" height="112.77"/><rect class="o" x="81.25" y="301.7" width="2.46" height="17.13"/><rect class="y" x="81.25" y="276.68" width="2.46" height="25.01"/><rect class="b" x="84.02" y="318.51" width="2.46" height="113.09"/><rect class="o" x="84.02" y="302.61" width="2.46" height="15.9"/><rect class="y" x="84.02" y="276.68" width="2.46" height="25.92"/><rect class="b" x="86.8" y="319.19" width="2.46" height="112.41"/><rect class="o" x="86.8" y="302.98" width="2.46" height="16.21"/><rect class="y" x="86.8" y="276.68" width="2.46" height="26.3"/><rect class="b" x="89.58" y="318.7" width="2.46" height="112.9"/><rect class="o" x="89.58" y="302.43" width="2.46" height="16.28"/><rect class="y" x="89.58" y="276.68" width="2.46" height="25.74"/><rect class="b" x="92.35" y="319.28" width="2.46" height="112.32"/><rect class="o" x="92.35" y="302.46" width="2.46" height="16.81"/><rect class="y" x="92.35" y="276.68" width="2.46" height="25.78"/><rect class="b" x="95.13" y="319" width="2.46" height="112.6"/><rect class="o" x="95.13" y="301.82" width="2.46" height="17.18"/><rect class="y" x="95.13" y="276.68" width="2.46" height="25.14"/><rect class="b" x="97.91" y="319.33" width="2.46" height="112.27"/><rect class="o" x="97.91" y="301.48" width="2.46" height="17.84"/><rect class="y" x="97.91" y="276.68" width="2.46" height="24.8"/><rect class="b" x="100.68" y="318.7" width="2.46" height="112.9"/><rect class="o" x="100.68" y="302.09" width="2.46" height="16.61"/><rect class="y" x="100.68" y="276.68" width="2.46" height="25.41"/><rect class="b" x="103.46" y="318.73" width="2.46" height="112.87"/><rect class="o" x="103.46" y="301.73" width="2.46" height="17"/><rect class="y" x="103.46" y="276.68" width="2.46" height="25.04"/><rect class="b" x="106.24" y="318.07" width="2.46" height="113.53"/><rect class="o" x="106.24" y="302.16" width="2.46" height="15.91"/><rect class="y" x="106.24" y="276.68" width="2.46" height="25.47"/><rect class="b" x="109.01" y="318.7" width="2.46" height="112.9"/><rect class="o" x="109.01" y="301.9" width="2.46" height="16.8"/><rect class="y" x="109.01" y="276.68" width="2.46" height="25.22"/><rect class="b" x="111.79" y="318" width="2.46" height="113.6"/><rect class="o" x="111.79" y="302.4" width="2.46" height="15.6"/><rect class="y" x="111.79" y="276.68" width="2.46" height="25.72"/><rect class="b" x="114.57" y="318.23" width="2.46" height="113.37"/><rect class="o" x="114.57" y="301.53" width="2.46" height="16.7"/><rect class="y" x="114.57" y="276.68" width="2.46" height="24.85"/><rect class="b" x="117.34" y="318.73" width="2.46" height="112.87"/><rect class="o" x="117.34" y="302.66" width="2.46" height="16.06"/><rect class="y" x="117.34" y="276.68" width="2.46" height="25.98"/><rect class="b" x="120.12" y="319.16" width="2.46" height="112.44"/><rect class="o" x="120.12" y="301.91" width="2.46" height="17.25"/><rect class="y" x="120.12" y="276.68" width="2.46" height="25.22"/><rect class="b" x="122.9" y="318.34" width="2.46" height="113.26"/><rect class="o" x="122.9" y="301.53" width="2.46" height="16.81"/><rect class="y" x="122.9" y="276.68" width="2.46" height="24.85"/><rect class="b" x="125.67" y="318.01" width="2.46" height="113.59"/><rect class="o" x="125.67" y="302.64" width="2.46" height="15.36"/><rect class="y" x="125.67" y="276.68" width="2.46" height="25.96"/><rect class="b" x="128.45" y="319.24" width="2.46" height="112.36"/><rect class="o" x="128.45" y="302.62" width="2.46" height="16.62"/><rect class="y" x="128.45" y="276.68" width="2.46" height="25.94"/><rect class="b" x="131.22" y="319.25" width="2.46" height="112.35"/><rect class="o" x="131.22" y="301.93" width="2.46" height="17.32"/><rect class="y" x="131.22" y="276.68" width="2.46" height="25.24"/><rect class="b" x="134" y="318" width="2.46" height="113.6"/><rect class="o" x="134" y="301.63" width="2.46" height="16.37"/><rect class="y" x="134" y="276.68" width="2.46" height="24.94"/><rect class="b" x="136.78" y="319.12" width="2.46" height="112.48"/><rect class="o" x="136.78" y="301.68" width="2.46" height="17.44"/><rect class="y" x="136.78" y="276.68" width="2.46" height="25"/><rect class="b" x="139.55" y="319.01" width="2.46" height="112.59"/><rect class="o" x="139.55" y="302.36" width="2.46" height="16.65"/><rect class="y" x="139.55" y="276.68" width="2.46" height="25.68"/><rect class="b" x="142.33" y="318.24" width="2.46" height="113.36"/><rect class="o" x="142.33" y="302.89" width="2.46" height="15.35"/><rect class="y" x="142.33" y="276.68" width="2.46" height="26.2"/><rect class="b" x="145.11" y="319.42" width="2.46" height="112.18"/><rect class="o" x="145.11" y="301.73" width="2.46" height="17.7"/><rect class="y" x="145.11" y="276.68" width="2.46" height="25.04"/><rect class="b" x="147.88" y="319.05" width="2.46" height="112.55"/><rect class="o" x="147.88" y="302.47" width="2.46" height="16.59"/><rect class="y" x="147.88" y="276.68" width="2.46" height="25.78"/><rect class="b" x="150.66" y="318.52" width="2.46" height="113.08"/><rect class="o" x="150.66" y="301.97" width="2.46" height="16.54"/><rect class="y" x="150.66" y="276.68" width="2.46" height="25.29"/><rect class="b" x="153.44" y="319.58" width="2.46" height="112.02"/><rect class="o" x="153.44" y="302.5" width="2.46" height="17.08"/><rect class="y" x="153.44" y="276.68" width="2.46" height="25.82"/><rect class="b" x="156.21" y="318.78" width="2.46" height="112.82"/><rect class="o" x="156.21" y="302.27" width="2.46" height="16.52"/><rect class="y" x="156.21" y="276.68" width="2.46" height="25.58"/><rect class="b" x="158.99" y="319.2" width="2.46" height="112.4"/><rect class="o" x="158.99" y="302.11" width="2.46" height="17.09"/><rect class="y" x="158.99" y="276.68" width="2.46" height="25.43"/><rect class="b" x="161.77" y="317.82" width="2.46" height="113.78"/><rect class="o" x="161.77" y="302.41" width="2.46" height="15.41"/><rect class="y" x="161.77" y="276.68" width="2.46" height="25.73"/><rect class="b" x="164.54" y="318.58" width="2.46" height="113.02"/><rect class="o" x="164.54" y="302.83" width="2.46" height="15.75"/><rect class="y" x="164.54" y="276.68" width="2.46" height="26.15"/><rect class="b" x="167.32" y="319.08" width="2.46" height="112.52"/><rect class="o" x="167.32" y="301.99" width="2.46" height="17.1"/><rect class="y" x="167.32" y="276.68" width="2.46" height="25.3"/><rect class="b" x="170.1" y="319.39" width="2.46" height="112.21"/><rect class="o" x="170.1" y="301.64" width="2.46" height="17.74"/><rect class="y" x="170.1" y="276.68" width="2.46" height="24.96"/><rect class="b" x="172.87" y="317.91" width="2.46" height="113.69"/><rect class="o" x="172.87" y="302.87" width="2.46" height="15.04"/><rect class="y" x="172.87" y="276.68" width="2.46" height="26.19"/><rect class="b" x="175.65" y="317.85" width="2.46" height="113.75"/><rect class="o" x="175.65" y="302.44" width="2.46" height="15.41"/><rect class="y" x="175.65" y="276.68" width="2.46" height="25.76"/><rect class="b" x="178.42" y="318.16" width="2.46" height="113.44"/><rect class="o" x="178.42" y="301.85" width="2.46" height="16.31"/><rect class="y" x="178.42" y="276.68" width="2.46" height="25.16"/><rect class="b" x="181.2" y="319.05" width="2.46" height="112.55"/><rect class="o" x="181.2" y="301.97" width="2.46" height="17.07"/><rect class="y" x="181.2" y="276.68" width="2.46" height="25.29"/><rect class="b" x="183.98" y="318.38" width="2.46" height="113.22"/><rect class="o" x="183.98" y="301.77" width="2.46" height="16.61"/><rect class="y" x="183.98" y="276.68" width="2.46" height="25.09"/><rect class="b" x="186.75" y="319.1" width="2.46" height="112.5"/><rect class="o" x="186.75" y="301.85" width="2.46" height="17.25"/><rect class="y" x="186.75" y="276.68" width="2.46" height="25.17"/><rect class="b" x="189.53" y="317.81" width="2.46" height="113.79"/><rect class="o" x="189.53" y="301.98" width="2.46" height="15.83"/><rect class="y" x="189.53" y="276.68" width="2.46" height="25.29"/><rect class="b" x="192.31" y="318.6" width="2.46" height="113"/><rect class="o" x="192.31" y="302.84" width="2.46" height="15.75"/><rect class="y" x="192.31" y="276.68" width="2.46" height="26.16"/><rect class="b" x="195.08" y="318.68" width="2.46" height="112.92"/><rect class="o" x="195.08" y="302.47" width="2.46" height="16.2"/><rect class="y" x="195.08" y="276.68" width="2.46" height="25.79"/><rect class="b" x="197.86" y="318.26" width="2.46" height="113.34"/><rect class="o" x="197.86" y="301.97" width="2.46" height="16.29"/><rect class="y" x="197.86" y="276.68" width="2.46" height="25.28"/><rect class="b" x="200.64" y="318.54" width="2.46" height="113.06"/><rect class="o" x="200.64" y="302.74" width="2.46" height="15.81"/><rect class="y" x="200.64" y="276.68" width="2.46" height="26.05"/><rect class="b" x="203.41" y="318.39" width="2.46" height="113.21"/><rect class="o" x="203.41" y="302.04" width="2.46" height="16.35"/><rect class="y" x="203.41" y="276.68" width="2.46" height="25.36"/><rect class="b" x="206.19" y="319.26" width="2.46" height="112.34"/><rect class="o" x="206.19" y="301.64" width="2.46" height="17.62"/><rect class="y" x="206.19" y="276.68" width="2.46" height="24.96"/><rect class="b" x="208.97" y="318.38" width="2.46" height="113.22"/><rect class="o" x="208.97" y="302.83" width="2.46" height="15.55"/><rect class="y" x="208.97" y="276.68" width="2.46" height="26.15"/><rect class="b" x="211.74" y="317.86" width="2.46" height="113.74"/><rect class="o" x="211.74" y="302.8" width="2.46" height="15.06"/><rect class="y" x="211.74" y="276.68" width="2.46" height="26.12"/><rect class="b" x="214.52" y="318.98" width="2.46" height="112.62"/><rect class="o" x="214.52" y="301.9" width="2.46" height="17.08"/><rect class="y" x="214.52" y="276.68" width="2.46" height="25.22"/><rect class="b" x="217.3" y="318.48" width="2.46" height="113.12"/><rect class="o" x="217.3" y="302.16" width="2.46" height="16.33"/><rect class="y" x="217.3" y="276.68" width="2.46" height="25.48"/><rect class="b" x="220.07" y="318.39" width="2.46" height="113.21"/><rect class="o" x="220.07" y="302.31" width="2.46" height="16.08"/><rect class="y" x="220.07" y="276.68" width="2.46" height="25.63"/><rect class="b" x="222.85" y="319.01" width="2.46" height="112.59"/><rect class="o" x="222.85" y="302.75" width="2.46" height="16.27"/><rect class="y" x="222.85" y="276.68" width="2.46" height="26.06"/><rect class="b" x="225.62" y="319.47" width="2.46" height="112.13"/><rect class="o" x="225.62" y="301.91" width="2.46" height="17.56"/><rect class="y" x="225.62" y="276.68" width="2.46" height="25.23"/><rect class="b" x="228.4" y="318.19" width="2.46" height="113.41"/><rect class="o" x="228.4" y="302.18" width="2.46" height="16.01"/><rect class="y" x="228.4" y="276.68" width="2.46" height="25.49"/><rect class="b" x="231.18" y="318.22" width="2.46" height="113.38"/><rect class="o" x="231.18" y="302.46" width="2.46" height="15.76"/><rect class="y" x="231.18" y="276.68" width="2.46" height="25.78"/><rect class="b" x="233.95" y="319.1" width="2.46" height="112.5"/><rect class="o" x="233.95" y="302.43" width="2.46" height="16.68"/><rect class="y" x="233.95" y="276.68" width="2.46" height="25.74"/><rect class="b" x="236.73" y="317.97" width="2.46" height="113.63"/><rect class="o" x="236.73" y="302.95" width="2.46" height="15.02"/><rect class="y" x="236.73" y="276.68" width="2.46" height="26.27"/><rect class="b" x="239.51" y="318.66" width="2.46" height="112.94"/><rect class="o" x="239.51" y="302.64" width="2.46" height="16.02"/><rect class="y" x="239.51" y="276.68" width="2.46" height="25.95"/><rect class="b" x="242.28" y="318.17" width="2.46" height="113.43"/><rect class="o" x="242.28" y="302.47" width="2.46" height="15.7"/><rect class="y" x="242.28" y="276.68" width="2.46" height="25.79"/><rect class="b" x="245.06" y="318.98" width="2.46" height="112.62"/><rect class="o" x="245.06" y="302.39" width="2.46" height="16.58"/><rect class="y" x="245.06" y="276.68" width="2.46" height="25.71"/><rect class="b" x="247.84" y="318.59" width="2.46" height="113.01"/><rect class="o" x="247.84" y="301.82" width="2.46" height="16.76"/><rect class="y" x="247.84" y="276.68" width="2.46" height="25.14"/><rect class="b" x="250.61" y="318.94" width="2.46" height="112.66"/><rect class="o" x="250.61" y="301.71" width="2.46" height="17.23"/><rect class="y" x="250.61" y="276.68" width="2.46" height="25.02"/><rect class="b" x="253.39" y="319.39" width="2.46" height="112.21"/><rect class="o" x="253.39" y="302.6" width="2.46" height="16.79"/><rect class="y" x="253.39" y="276.68" width="2.46" height="25.92"/><rect class="b" x="256.17" y="319.41" width="2.46" height="112.19"/><rect class="o" x="256.17" y="302.84" width="2.46" height="16.57"/><rect class="y" x="256.17" y="276.68" width="2.46" height="26.16"/><rect class="b" x="258.94" y="318.15" width="2.46" height="113.45"/><rect class="o" x="258.94" y="301.89" width="2.46" height="16.25"/><rect class="y" x="258.94" y="276.68" width="2.46" height="25.21"/><rect class="b" x="261.72" y="319.25" width="2.46" height="112.35"/><rect class="o" x="261.72" y="302.73" width="2.46" height="16.53"/><rect class="y" x="261.72" y="276.68" width="2.46" height="26.04"/><rect class="b" x="264.5" y="318.82" width="2.46" height="112.78"/><rect class="o" x="264.5" y="301.87" width="2.46" height="16.95"/><rect class="y" x="264.5" y="276.68" width="2.46" height="25.18"/></g>
<rect x="32.8" y="275.68" width="1.33" height="155.92" fill="#fff"/>
<rect x="32.5" y="245.7" width="236" height="185.9" fill="none" stroke="#999" stroke-width="0.75"/>
<path d="M32.5 431.6h2M268.5 431.6h-2M32.5 400.62h2M268.5 400.62h-2M32.5 369.63h2M268.5 369.63h-2M32.5 338.65h2M268.5 338.65h-2M32.5 307.67h2M268.5 307.67h-2M32.5 276.68h2M268.5 276.68h-2M32.5 245.7h2M268.5 245.7h-2M32.5 431.6v-2M32.5 245.7v2M60.26 431.6v-2M60.26 245.7v2M88.03 431.6v-2M88.03 245.7v2M115.79 431.6v-2M115.79 245.7v2M143.56 431.6v-2M143.56 245.7v2M171.32 431.6v-2M171.32 245.7v2M199.09 431.6v-2M199.09 245.7v2M226.85 431.6v-2M226.85 245.7v2M254.62 431.6v-2M254.62 245.7v2" stroke="#999" stroke-width="0.75" fill="none"/>
<g font-family="Liberation Serif, Times New Roman, serif" font-weight="bold" font-size="8.45" fill="#262626"><text x="28.73" y="434.86" text-anchor="end">0</text><text x="28.73" y="403.87" text-anchor="end">20</text><text x="28.73" y="372.89" text-anchor="end">40</text><text x="28.73" y="341.91" text-anchor="end">60</text><text x="28.73" y="310.92" text-anchor="end">80</text><text x="28.73" y="279.94" text-anchor="end">100</text><text x="28.73" y="248.96" text-anchor="end">120</text><text x="32.5" y="443.1" text-anchor="middle">0</text><text x="60.26" y="443.1" text-anchor="middle">10</text><text x="88.03" y="443.1" text-anchor="middle">20</text><text x="115.79" y="443.1" text-anchor="middle">30</text><text x="143.56" y="443.1" text-anchor="middle">40</text><text x="171.32" y="443.1" text-anchor="middle">50</text><text x="199.09" y="443.1" text-anchor="middle">60</text><text x="226.85" y="443.1" text-anchor="middle">70</text><text x="254.62" y="443.1" text-anchor="middle">80</text></g>
<text font-family="Liberation Serif, Times New Roman, serif" font-weight="bold" font-size="10.18" fill="#000" x="150.5" y="455.32" text-anchor="middle">The number of population</text>
<text font-family="Liberation Serif, Times New Roman, serif" font-weight="bold" font-size="10.18" fill="#000" text-anchor="middle" transform="translate(11.63 338.65) rotate(-90)">Ore percentage (%)</text>
<text font-family="Liberation Serif, Times New Roman, serif" font-weight="bold" font-size="14.7" word-spacing="0.64" fill="#000" x="84.14" y="472.3">(c) 3# unloading point</text>
<rect x="200.6" y="245.7" width="67.9" height="30.13" fill="#fff" stroke="#999" stroke-width="0.75"/><rect x="202.64" y="247.53" width="22.4" height="6.62" fill="rgb(2,116,200)" stroke="#000" stroke-width="0.4"/><text x="226.66" y="253.54" font-family="Liberation Serif, Times New Roman, serif" font-weight="bold" font-size="7.84" fill="#000">skarn</text><rect x="202.64" y="257.1" width="22.4" height="6.62" fill="rgb(245,85,20)" stroke="#000" stroke-width="0.4"/><text x="226.66" y="263.11" font-family="Liberation Serif, Times New Roman, serif" font-weight="bold" font-size="7.84" fill="#000">halleflinta</text><rect x="202.64" y="266.67" width="22.4" height="6.62" fill="rgb(248,186,14)" stroke="#000" stroke-width="0.4"/><text x="226.66" y="272.68" font-family="Liberation Serif, Times New Roman, serif" font-weight="bold" font-size="7.84" fill="#000">gillebackite</text>
<g><rect class="b" x="311.14" y="309" width="2.44" height="123.4"/><rect class="o" x="311.14" y="278.15" width="2.44" height="30.85"/><rect class="b" x="313.91" y="309" width="2.44" height="123.4"/><rect class="o" x="313.91" y="278.15" width="2.44" height="30.85"/><rect class="b" x="316.67" y="309" width="2.44" height="123.4"/><rect class="o" x="316.67" y="278.15" width="2.44" height="30.85"/><rect class="b" x="319.43" y="309" width="2.44" height="123.4"/><rect class="o" x="319.43" y="278.15" width="2.44" height="30.85"/><rect class="b" x="322.2" y="309" width="2.44" height="123.4"/><rect class="o" x="322.2" y="278.15" width="2.44" height="30.85"/><rect class="b" x="324.96" y="309" width="2.44" height="123.4"/><rect class="o" x="324.96" y="278.15" width="2.44" height="30.85"/><rect class="b" x="327.72" y="309" width="2.44" height="123.4"/><rect class="o" x="327.72" y="278.15" width="2.44" height="30.85"/><rect class="b" x="330.49" y="309" width="2.44" height="123.4"/><rect class="o" x="330.49" y="278.15" width="2.44" height="30.85"/><rect class="b" x="333.25" y="309" width="2.44" height="123.4"/><rect class="o" x="333.25" y="278.15" width="2.44" height="30.85"/><rect class="b" x="336.01" y="309" width="2.44" height="123.4"/><rect class="o" x="336.01" y="278.15" width="2.44" height="30.85"/><rect class="b" x="338.78" y="309" width="2.44" height="123.4"/><rect class="o" x="338.78" y="278.15" width="2.44" height="30.85"/><rect class="b" x="341.54" y="309" width="2.44" height="123.4"/><rect class="o" x="341.54" y="278.15" width="2.44" height="30.85"/><rect class="b" x="344.3" y="309" width="2.44" height="123.4"/><rect class="o" x="344.3" y="278.15" width="2.44" height="30.85"/><rect class="b" x="347.07" y="309" width="2.44" height="123.4"/><rect class="o" x="347.07" y="278.15" width="2.44" height="30.85"/><rect class="b" x="349.83" y="309" width="2.44" height="123.4"/><rect class="o" x="349.83" y="278.15" width="2.44" height="30.85"/><rect class="b" x="352.59" y="309" width="2.44" height="123.4"/><rect class="o" x="352.59" y="278.15" width="2.44" height="30.85"/><rect class="b" x="355.36" y="309" width="2.44" height="123.4"/><rect class="o" x="355.36" y="278.15" width="2.44" height="30.85"/><rect class="b" x="358.12" y="309" width="2.44" height="123.4"/><rect class="o" x="358.12" y="278.15" width="2.44" height="30.85"/><rect class="b" x="360.89" y="309" width="2.44" height="123.4"/><rect class="o" x="360.89" y="278.15" width="2.44" height="30.85"/><rect class="b" x="363.65" y="309" width="2.44" height="123.4"/><rect class="o" x="363.65" y="278.15" width="2.44" height="30.85"/><rect class="b" x="366.41" y="309" width="2.44" height="123.4"/><rect class="o" x="366.41" y="278.15" width="2.44" height="30.85"/><rect class="b" x="369.18" y="309" width="2.44" height="123.4"/><rect class="o" x="369.18" y="278.15" width="2.44" height="30.85"/><rect class="b" x="371.94" y="309" width="2.44" height="123.4"/><rect class="o" x="371.94" y="278.15" width="2.44" height="30.85"/><rect class="b" x="374.7" y="309" width="2.44" height="123.4"/><rect class="o" x="374.7" y="278.15" width="2.44" height="30.85"/><rect class="b" x="377.47" y="309" width="2.44" height="123.4"/><rect class="o" x="377.47" y="278.15" width="2.44" height="30.85"/><rect class="b" x="380.23" y="309" width="2.44" height="123.4"/><rect class="o" x="380.23" y="278.15" width="2.44" height="30.85"/><rect class="b" x="382.99" y="309" width="2.44" height="123.4"/><rect class="o" x="382.99" y="278.15" width="2.44" height="30.85"/><rect class="b" x="385.76" y="309" width="2.44" height="123.4"/><rect class="o" x="385.76" y="278.15" width="2.44" height="30.85"/><rect class="b" x="388.52" y="309" width="2.44" height="123.4"/><rect class="o" x="388.52" y="278.15" width="2.44" height="30.85"/><rect class="b" x="391.28" y="309" width="2.44" height="123.4"/><rect class="o" x="391.28" y="278.15" width="2.44" height="30.85"/><rect class="b" x="394.05" y="309" width="2.44" height="123.4"/><rect class="o" x="394.05" y="278.15" width="2.44" height="30.85"/><rect class="b" x="396.81" y="309" width="2.44" height="123.4"/><rect class="o" x="396.81" y="278.15" width="2.44" height="30.85"/><rect class="b" x="399.57" y="309" width="2.44" height="123.4"/><rect class="o" x="399.57" y="278.15" width="2.44" height="30.85"/><rect class="b" x="402.34" y="309" width="2.44" height="123.4"/><rect class="o" x="402.34" y="278.15" width="2.44" height="30.85"/><rect class="b" x="405.1" y="309" width="2.44" height="123.4"/><rect class="o" x="405.1" y="278.15" width="2.44" height="30.85"/><rect class="b" x="407.87" y="309" width="2.44" height="123.4"/><rect class="o" x="407.87" y="278.15" width="2.44" height="30.85"/><rect class="b" x="410.63" y="309" width="2.44" height="123.4"/><rect class="o" x="410.63" y="278.15" width="2.44" height="30.85"/><rect class="b" x="413.39" y="309" width="2.44" height="123.4"/><rect class="o" x="413.39" y="278.15" width="2.44" height="30.85"/><rect class="b" x="416.16" y="309" width="2.44" height="123.4"/><rect class="o" x="416.16" y="278.15" width="2.44" height="30.85"/><rect class="b" x="418.92" y="309" width="2.44" height="123.4"/><rect class="o" x="418.92" y="278.15" width="2.44" height="30.85"/><rect class="b" x="421.68" y="309" width="2.44" height="123.4"/><rect class="o" x="421.68" y="278.15" width="2.44" height="30.85"/><rect class="b" x="424.45" y="309" width="2.44" height="123.4"/><rect class="o" x="424.45" y="278.15" width="2.44" height="30.85"/><rect class="b" x="427.21" y="309" width="2.44" height="123.4"/><rect class="o" x="427.21" y="278.15" width="2.44" height="30.85"/><rect class="b" x="429.97" y="309" width="2.44" height="123.4"/><rect class="o" x="429.97" y="278.15" width="2.44" height="30.85"/><rect class="b" x="432.74" y="309" width="2.44" height="123.4"/><rect class="o" x="432.74" y="278.15" width="2.44" height="30.85"/><rect class="b" x="435.5" y="309" width="2.44" height="123.4"/><rect class="o" x="435.5" y="278.15" width="2.44" height="30.85"/><rect class="b" x="438.26" y="309" width="2.44" height="123.4"/><rect class="o" x="438.26" y="278.15" width="2.44" height="30.85"/><rect class="b" x="441.03" y="309" width="2.44" height="123.4"/><rect class="o" x="441.03" y="278.15" width="2.44" height="30.85"/><rect class="b" x="443.79" y="309" width="2.44" height="123.4"/><rect class="o" x="443.79" y="278.15" width="2.44" height="30.85"/><rect class="b" x="446.55" y="309" width="2.44" height="123.4"/><rect class="o" x="446.55" y="278.15" width="2.44" height="30.85"/><rect class="b" x="449.32" y="309" width="2.44" height="123.4"/><rect class="o" x="449.32" y="278.15" width="2.44" height="30.85"/><rect class="b" x="452.08" y="309" width="2.44" height="123.4"/><rect class="o" x="452.08" y="278.15" width="2.44" height="30.85"/><rect class="b" x="454.85" y="309" width="2.44" height="123.4"/><rect class="o" x="454.85" y="278.15" width="2.44" height="30.85"/><rect class="b" x="457.61" y="309" width="2.44" height="123.4"/><rect class="o" x="457.61" y="278.15" width="2.44" height="30.85"/><rect class="b" x="460.37" y="309" width="2.44" height="123.4"/><rect class="o" x="460.37" y="278.15" width="2.44" height="30.85"/><rect class="b" x="463.14" y="309" width="2.44" height="123.4"/><rect class="o" x="463.14" y="278.15" width="2.44" height="30.85"/><rect class="b" x="465.9" y="309" width="2.44" height="123.4"/><rect class="o" x="465.9" y="278.15" width="2.44" height="30.85"/><rect class="b" x="468.66" y="309" width="2.44" height="123.4"/><rect class="o" x="468.66" y="278.15" width="2.44" height="30.85"/><rect class="b" x="471.43" y="309" width="2.44" height="123.4"/><rect class="o" x="471.43" y="278.15" width="2.44" height="30.85"/><rect class="b" x="474.19" y="309" width="2.44" height="123.4"/><rect class="o" x="474.19" y="278.15" width="2.44" height="30.85"/><rect class="b" x="476.95" y="309" width="2.44" height="123.4"/><rect class="o" x="476.95" y="278.15" width="2.44" height="30.85"/><rect class="b" x="479.72" y="309" width="2.44" height="123.4"/><rect class="o" x="479.72" y="278.15" width="2.44" height="30.85"/><rect class="b" x="482.48" y="309" width="2.44" height="123.4"/><rect class="o" x="482.48" y="278.15" width="2.44" height="30.85"/><rect class="b" x="485.24" y="309" width="2.44" height="123.4"/><rect class="o" x="485.24" y="278.15" width="2.44" height="30.85"/><rect class="b" x="488.01" y="309" width="2.44" height="123.4"/><rect class="o" x="488.01" y="278.15" width="2.44" height="30.85"/><rect class="b" x="490.77" y="309" width="2.44" height="123.4"/><rect class="o" x="490.77" y="278.15" width="2.44" height="30.85"/><rect class="b" x="493.53" y="309" width="2.44" height="123.4"/><rect class="o" x="493.53" y="278.15" width="2.44" height="30.85"/><rect class="b" x="496.3" y="309" width="2.44" height="123.4"/><rect class="o" x="496.3" y="278.15" width="2.44" height="30.85"/><rect class="b" x="499.06" y="309" width="2.44" height="123.4"/><rect class="o" x="499.06" y="278.15" width="2.44" height="30.85"/><rect class="b" x="501.83" y="309" width="2.44" height="123.4"/><rect class="o" x="501.83" y="278.15" width="2.44" height="30.85"/><rect class="b" x="504.59" y="309" width="2.44" height="123.4"/><rect class="o" x="504.59" y="278.15" width="2.44" height="30.85"/><rect class="b" x="507.35" y="309" width="2.44" height="123.4"/><rect class="o" x="507.35" y="278.15" width="2.44" height="30.85"/><rect class="b" x="510.12" y="309" width="2.44" height="123.4"/><rect class="o" x="510.12" y="278.15" width="2.44" height="30.85"/><rect class="b" x="512.88" y="309" width="2.44" height="123.4"/><rect class="o" x="512.88" y="278.15" width="2.44" height="30.85"/><rect class="b" x="515.64" y="309" width="2.44" height="123.4"/><rect class="o" x="515.64" y="278.15" width="2.44" height="30.85"/><rect class="b" x="518.41" y="309" width="2.44" height="123.4"/><rect class="o" x="518.41" y="278.15" width="2.44" height="30.85"/><rect class="b" x="521.17" y="309" width="2.44" height="123.4"/><rect class="o" x="521.17" y="278.15" width="2.44" height="30.85"/><rect class="b" x="523.93" y="309" width="2.44" height="123.4"/><rect class="o" x="523.93" y="278.15" width="2.44" height="30.85"/><rect class="b" x="526.7" y="309" width="2.44" height="123.4"/><rect class="o" x="526.7" y="278.15" width="2.44" height="30.85"/><rect class="b" x="529.46" y="309" width="2.44" height="123.4"/><rect class="o" x="529.46" y="278.15" width="2.44" height="30.85"/><rect class="b" x="532.22" y="309" width="2.44" height="123.4"/><rect class="o" x="532.22" y="278.15" width="2.44" height="30.85"/><rect class="b" x="534.99" y="309" width="2.44" height="123.4"/><rect class="o" x="534.99" y="278.15" width="2.44" height="30.85"/><rect class="b" x="537.75" y="309" width="2.44" height="123.4"/><rect class="o" x="537.75" y="278.15" width="2.44" height="30.85"/><rect class="b" x="540.51" y="309" width="2.44" height="123.4"/><rect class="o" x="540.51" y="278.15" width="2.44" height="30.85"/></g>
<rect x="309.9" y="277.15" width="1.31" height="155.25" fill="#fff"/>
<rect x="309.6" y="247.3" width="234.9" height="185.1" fill="none" stroke="#999" stroke-width="0.75"/>
<path d="M309.6 432.4h2M544.5 432.4h-2M309.6 401.55h2M544.5 401.55h-2M309.6 370.7h2M544.5 370.7h-2M309.6 339.85h2M544.5 339.85h-2M309.6 309h2M544.5 309h-2M309.6 278.15h2M544.5 278.15h-2M309.6 247.3h2M544.5 247.3h-2M309.6 432.4v-2M309.6 247.3v2M337.24 432.4v-2M337.24 247.3v2M364.87 432.4v-2M364.87 247.3v2M392.51 432.4v-2M392.51 247.3v2M420.14 432.4v-2M420.14 247.3v2M447.78 432.4v-2M447.78 247.3v2M475.41 432.4v-2M475.41 247.3v2M503.05 432.4v-2M503.05 247.3v2M530.68 432.4v-2M530.68 247.3v2" stroke="#999" stroke-width="0.75" fill="none"/>
<g font-family="Liberation Serif, Times New Roman, serif" font-weight="bold" font-size="8.41" fill="#262626"><text x="305.85" y="435.64" text-anchor="end">0</text><text x="305.85" y="404.79" text-anchor="end">20</text><text x="305.85" y="373.94" text-anchor="end">40</text><text x="305.85" y="343.09" text-anchor="end">60</text><text x="305.85" y="312.24" text-anchor="end">80</text><text x="305.85" y="281.39" text-anchor="end">100</text><text x="305.85" y="250.54" text-anchor="end">120</text><text x="309.6" y="443.85" text-anchor="middle">0</text><text x="337.24" y="443.85" text-anchor="middle">10</text><text x="364.87" y="443.85" text-anchor="middle">20</text><text x="392.51" y="443.85" text-anchor="middle">30</text><text x="420.14" y="443.85" text-anchor="middle">40</text><text x="447.78" y="443.85" text-anchor="middle">50</text><text x="475.41" y="443.85" text-anchor="middle">60</text><text x="503.05" y="443.85" text-anchor="middle">70</text><text x="530.68" y="443.85" text-anchor="middle">80</text></g>
<text font-family="Liberation Serif, Times New Roman, serif" font-weight="bold" font-size="10.14" fill="#000" x="427.05" y="456.02" text-anchor="middle">The number of population</text>
<text font-family="Liberation Serif, Times New Roman, serif" font-weight="bold" font-size="10.14" fill="#000" text-anchor="middle" transform="translate(288.82 339.85) rotate(-90)">Ore percentage (%)</text>
<text font-family="Liberation Serif, Times New Roman, serif" font-weight="bold" font-size="14.7" word-spacing="0.64" fill="#000" x="352.84" y="471.8">(d) 4# unloading point</text>
<rect x="477.2" y="247.3" width="67.3" height="30.01" fill="#fff" stroke="#999" stroke-width="0.75"/><rect x="479.23" y="249.12" width="22.3" height="6.59" fill="rgb(2,116,200)" stroke="#000" stroke-width="0.4"/><text x="503.15" y="255.11" font-family="Liberation Serif, Times New Roman, serif" font-weight="bold" font-size="7.81" fill="#000">skarn</text><rect x="479.23" y="258.65" width="22.3" height="6.59" fill="rgb(245,85,20)" stroke="#000" stroke-width="0.4"/><text x="503.15" y="264.63" font-family="Liberation Serif, Times New Roman, serif" font-weight="bold" font-size="7.81" fill="#000">halleflinta</text><rect x="479.23" y="268.18" width="22.3" height="6.59" fill="rgb(248,186,14)" stroke="#000" stroke-width="0.4"/><text x="503.15" y="274.16" font-family="Liberation Serif, Times New Roman, serif" font-weight="bold" font-size="7.81" fill="#000">gillebackite</text>
</svg></body></html>
